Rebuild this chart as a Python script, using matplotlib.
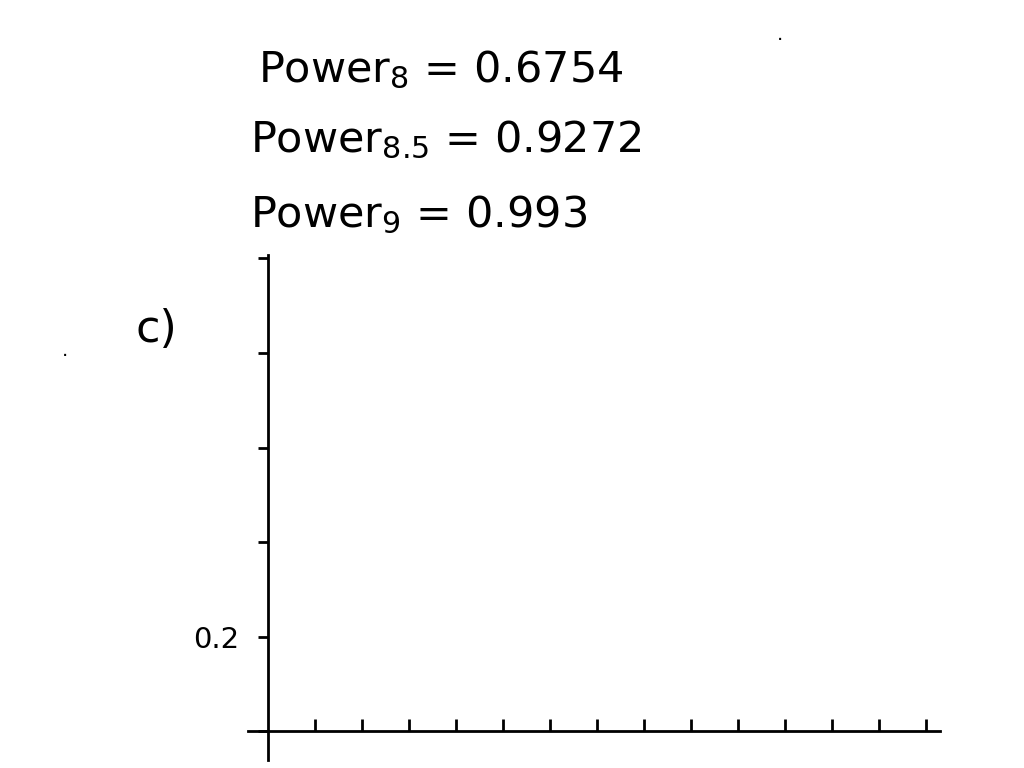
import matplotlib
matplotlib.use("Agg")
import matplotlib.pyplot as plt

# Data
power_subscripts = ["8", "8.5", "9"]
power_values = ["0.6754", "0.9272", "0.993"]
y_ticks = [0.0, 0.2, 0.4, 0.6, 0.8, 1.0]
y_tick_labels = ["", "0.2", "", "", "", ""]
x_ticks = list(range(1, 15))
part_label = "c)"

W, H = 1024, 768
fig = plt.figure(figsize=(W / 100, H / 100), dpi=100)
fig.patch.set_facecolor("white")

# axes area in pixels: x 248..940, y 255..760 (origin at x=268, y=731)
left_px, right_px, top_px, bot_px = 248, 940, 255, 760
ax = fig.add_axes([left_px / W, 1 - bot_px / H, (right_px - left_px) / W, (bot_px - top_px) / H])
x_unit = 47.0          # pixels per x unit
y_unit = 94.5 / 0.2    # pixels per y unit
ox, oy = 268, 731
ax.set_xlim((left_px - ox) / x_unit, (right_px - ox) / x_unit)
ax.set_ylim(-(bot_px - oy) / y_unit, (oy - top_px) / y_unit)

for s in ["top", "right"]:
    ax.spines[s].set_visible(False)
ax.spines["left"].set_position(("data", 0))
ax.spines["bottom"].set_position(("data", 0))
for s in ["left", "bottom"]:
    ax.spines[s].set_linewidth(2.0)
    ax.spines[s].set_color("black")

ax.set_xticks(x_ticks)
ax.set_xticklabels([])
ax.tick_params(axis="x", direction="in", length=9, width=2.0, color="black")
ax.set_yticks(y_ticks)
ax.set_yticklabels(y_tick_labels, fontsize=21)
ax.tick_params(axis="y", direction="out", length=7, width=2.0, color="black", pad=14)
ax.set_facecolor("white")

# Handwritten-style annotations
rows_y = [70, 140, 215]
rows_x = [258, 250, 250]
for sub, val, yp, xp in zip(power_subscripts, power_values, rows_y, rows_x):
    fig.text(xp / W, 1 - yp / H, "Power$_{%s}$ = %s" % (sub, val),
             fontsize=31, ha="left", va="center", color="black")

fig.text(135 / W, 1 - 330 / H, part_label, fontsize=32, ha="left", va="center", color="black")
fig.text(65 / W, 1 - 350 / H, ".", fontsize=14, ha="center", va="center", color="black")
fig.text(780 / W, 1 - 35 / H, ".", fontsize=14, ha="center", va="center", color="black")

fig.savefig("out.png", dpi=100, facecolor="white")
